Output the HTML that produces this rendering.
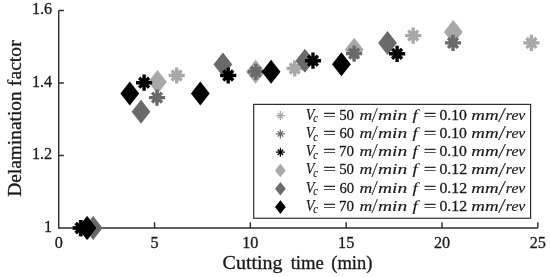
<!DOCTYPE html>
<html><head><meta charset="utf-8"><title>Delamination factor vs cutting time</title>
<style>
html,body{margin:0;padding:0;background:#fff;}
svg{display:block;font-family:"Liberation Serif","DejaVu Serif",serif;fill:#1a1a1a;}
text{stroke:#1a1a1a;stroke-width:0.3px;}
text.i{stroke-width:0.16px;}
</style></head>
<body>
<svg width="550" height="277" viewBox="0 0 550 277">
<rect width="550" height="277" fill="#fff"/>
<path d="M58.7 10.45V228.05H537.8" fill="none" stroke="#2e2e2e" stroke-width="1.45" stroke-linejoin="miter"/><path d="M154.52 228.05V222.35M250.34 228.05V222.35M346.16 228.05V222.35M441.98 228.05V222.35M537.80 228.05V222.35M58.7 155.52H63.90M58.7 82.98H63.90M58.7 10.45H63.90" fill="none" stroke="#2e2e2e" stroke-width="1.45"/>
<path stroke="#a8a8a8" stroke-width="3.4" fill="none" d="M72.40 228.05H88.60M80.50 219.95V236.15M75.55 223.10L85.45 233.00M75.55 233.00L85.45 223.10"/>
<path stroke="#a8a8a8" stroke-width="3.4" fill="none" d="M168.60 75.50H184.80M176.70 67.40V83.60M171.75 70.55L181.65 80.45M171.75 80.45L181.65 70.55"/>
<path stroke="#a8a8a8" stroke-width="3.4" fill="none" d="M286.60 68.50H302.80M294.70 60.40V76.60M289.75 63.55L299.65 73.45M289.75 73.45L299.65 63.55"/>
<path stroke="#a8a8a8" stroke-width="3.4" fill="none" d="M405.10 35.60H421.30M413.20 27.50V43.70M408.25 30.65L418.15 40.55M408.25 40.55L418.15 30.65"/>
<path stroke="#a8a8a8" stroke-width="3.4" fill="none" d="M523.30 42.90H539.50M531.40 34.80V51.00M526.45 37.95L536.35 47.85M526.45 47.85L536.35 37.95"/>
<path fill="#a8a8a8" d="M87.80 216.05L97.20 228.05L87.80 240.05L78.40 228.05Z"/>
<path fill="#a8a8a8" d="M157.50 70.10L166.90 82.10L157.50 94.10L148.10 82.10Z"/>
<path fill="#a8a8a8" d="M255.60 59.80L265.00 71.80L255.60 83.80L246.20 71.80Z"/>
<path fill="#a8a8a8" d="M354.20 37.80L363.60 49.80L354.20 61.80L344.80 49.80Z"/>
<path fill="#a8a8a8" d="M453.30 20.00L462.70 32.00L453.30 44.00L443.90 32.00Z"/>
<path stroke="#6a6a6a" stroke-width="3.4" fill="none" d="M72.40 228.05H88.60M80.50 219.95V236.15M75.55 223.10L85.45 233.00M75.55 233.00L85.45 223.10"/>
<path stroke="#6a6a6a" stroke-width="3.4" fill="none" d="M148.90 97.60H165.10M157.00 89.50V105.70M152.05 92.65L161.95 102.55M152.05 102.55L161.95 92.65"/>
<path stroke="#6a6a6a" stroke-width="3.4" fill="none" d="M247.70 71.80H263.90M255.80 63.70V79.90M250.85 66.85L260.75 76.75M250.85 76.75L260.75 66.85"/>
<path stroke="#6a6a6a" stroke-width="3.4" fill="none" d="M346.00 53.60H362.20M354.10 45.50V61.70M349.15 48.65L359.05 58.55M349.15 58.55L359.05 48.65"/>
<path stroke="#6a6a6a" stroke-width="3.4" fill="none" d="M444.90 42.90H461.10M453.00 34.80V51.00M448.05 37.95L457.95 47.85M448.05 47.85L457.95 37.95"/>
<path fill="#6a6a6a" d="M93.20 216.05L102.60 228.05L93.20 240.05L83.80 228.05Z"/>
<path fill="#6a6a6a" d="M141.00 99.70L150.40 111.70L141.00 123.70L131.60 111.70Z"/>
<path fill="#6a6a6a" d="M222.90 52.40L232.30 64.40L222.90 76.40L213.50 64.40Z"/>
<path fill="#6a6a6a" d="M304.90 48.70L314.30 60.70L304.90 72.70L295.50 60.70Z"/>
<path fill="#6a6a6a" d="M387.50 31.00L396.90 43.00L387.50 55.00L378.10 43.00Z"/>
<path stroke="#000" stroke-width="3.4" fill="none" d="M72.80 228.05H89.00M80.90 219.95V236.15M75.95 223.10L85.85 233.00M75.95 233.00L85.85 223.10"/>
<path stroke="#000" stroke-width="3.4" fill="none" d="M136.00 82.70H152.20M144.10 74.60V90.80M139.15 77.75L149.05 87.65M139.15 87.65L149.05 77.75"/>
<path stroke="#000" stroke-width="3.4" fill="none" d="M220.10 75.50H236.30M228.20 67.40V83.60M223.25 70.55L233.15 80.45M223.25 80.45L233.15 70.55"/>
<path stroke="#000" stroke-width="3.4" fill="none" d="M304.90 60.70H321.10M313.00 52.60V68.80M308.05 55.75L317.95 65.65M308.05 65.65L317.95 55.75"/>
<path stroke="#000" stroke-width="3.4" fill="none" d="M389.00 53.80H405.20M397.10 45.70V61.90M392.15 48.85L402.05 58.75M392.15 58.75L402.05 48.85"/>
<path fill="#000" d="M87.00 216.05L96.40 228.05L87.00 240.05L77.60 228.05Z"/>
<path fill="#000" d="M129.80 81.50L139.20 93.50L129.80 105.50L120.40 93.50Z"/>
<path fill="#000" d="M200.30 81.50L209.70 93.50L200.30 105.50L190.90 93.50Z"/>
<path fill="#000" d="M271.10 59.80L280.50 71.80L271.10 83.80L261.70 71.80Z"/>
<path fill="#000" d="M341.40 52.30L350.80 64.30L341.40 76.30L332.00 64.30Z"/>
<rect x="253.7" y="104.4" width="276.9" height="113.85" fill="#fff" stroke="#2e2e2e" stroke-width="1.2"/><path stroke="#a8a8a8" stroke-width="1.25" fill="none" d="M275.90 115.60H284.90M280.40 111.10V120.10M277.65 112.85L283.15 118.35M277.65 118.35L283.15 112.85"/><path stroke="#6a6a6a" stroke-width="1.25" fill="none" d="M275.90 133.90H284.90M280.40 129.40V138.40M277.65 131.15L283.15 136.65M277.65 136.65L283.15 131.15"/><path stroke="#000" stroke-width="1.25" fill="none" d="M275.90 152.20H284.90M280.40 147.70V156.70M277.65 149.45L283.15 154.95M277.65 154.95L283.15 149.45"/><path fill="#a8a8a8" d="M280.40 163.70L285.75 170.50L280.40 177.30L275.05 170.50Z"/><path fill="#6a6a6a" d="M280.40 182.00L285.75 188.80L280.40 195.60L275.05 188.80Z"/><path fill="#000" d="M280.40 200.30L285.75 207.10L280.40 213.90L275.05 207.10Z"/>
<text x="305.74" y="119.95" font-size="16.4" font-style="italic" class="i" textLength="8.67" lengthAdjust="spacingAndGlyphs">V</text>
<text x="313.16" y="122.35" font-size="11.6" font-style="italic" class="i" textLength="4.68" lengthAdjust="spacingAndGlyphs">c</text>
<text x="323.29" y="119.95" font-size="15.2" textLength="12.63" lengthAdjust="spacingAndGlyphs">=</text>
<text x="339.14" y="119.95" font-size="15.2" textLength="14.92" lengthAdjust="spacingAndGlyphs">50</text>
<text x="359.42" y="119.95" font-size="15.2" font-style="italic" class="i" textLength="12.72" lengthAdjust="spacingAndGlyphs">m</text>
<text x="372.15" y="122.15" font-size="21" font-style="italic" class="i" textLength="4.32" lengthAdjust="spacingAndGlyphs">/</text>
<text x="378.06" y="119.95" font-size="15.2" font-style="italic" class="i" textLength="29.20" lengthAdjust="spacingAndGlyphs">min</text>
<text x="412.45" y="119.95" font-size="15.2" font-style="italic" class="i" textLength="5.18" lengthAdjust="spacingAndGlyphs">f</text>
<text x="423.89" y="119.95" font-size="15.2" textLength="12.63" lengthAdjust="spacingAndGlyphs">=</text>
<text x="439.45" y="119.95" font-size="15.2" textLength="27.46" lengthAdjust="spacingAndGlyphs">0.10</text>
<text x="471.28" y="119.95" font-size="15.2" font-style="italic" class="i" textLength="27.30" lengthAdjust="spacingAndGlyphs">mm</text>
<text x="499.11" y="122.15" font-size="21" font-style="italic" class="i" textLength="5.38" lengthAdjust="spacingAndGlyphs">/</text>
<text x="505.85" y="119.95" font-size="15.2" font-style="italic" class="i" textLength="19.51" lengthAdjust="spacingAndGlyphs">rev</text>
<text x="305.74" y="138.12" font-size="16.4" font-style="italic" class="i" textLength="8.67" lengthAdjust="spacingAndGlyphs">V</text>
<text x="313.16" y="140.52" font-size="11.6" font-style="italic" class="i" textLength="4.68" lengthAdjust="spacingAndGlyphs">c</text>
<text x="323.29" y="138.12" font-size="15.2" textLength="12.63" lengthAdjust="spacingAndGlyphs">=</text>
<text x="339.40" y="138.12" font-size="15.2" textLength="14.66" lengthAdjust="spacingAndGlyphs">60</text>
<text x="359.42" y="138.12" font-size="15.2" font-style="italic" class="i" textLength="12.72" lengthAdjust="spacingAndGlyphs">m</text>
<text x="372.15" y="140.32" font-size="21" font-style="italic" class="i" textLength="4.32" lengthAdjust="spacingAndGlyphs">/</text>
<text x="378.06" y="138.12" font-size="15.2" font-style="italic" class="i" textLength="29.20" lengthAdjust="spacingAndGlyphs">min</text>
<text x="412.45" y="138.12" font-size="15.2" font-style="italic" class="i" textLength="5.18" lengthAdjust="spacingAndGlyphs">f</text>
<text x="423.89" y="138.12" font-size="15.2" textLength="12.63" lengthAdjust="spacingAndGlyphs">=</text>
<text x="439.45" y="138.12" font-size="15.2" textLength="27.46" lengthAdjust="spacingAndGlyphs">0.10</text>
<text x="471.28" y="138.12" font-size="15.2" font-style="italic" class="i" textLength="27.30" lengthAdjust="spacingAndGlyphs">mm</text>
<text x="499.11" y="140.32" font-size="21" font-style="italic" class="i" textLength="5.38" lengthAdjust="spacingAndGlyphs">/</text>
<text x="505.85" y="138.12" font-size="15.2" font-style="italic" class="i" textLength="19.51" lengthAdjust="spacingAndGlyphs">rev</text>
<text x="305.74" y="156.29" font-size="16.4" font-style="italic" class="i" textLength="8.67" lengthAdjust="spacingAndGlyphs">V</text>
<text x="313.16" y="158.69" font-size="11.6" font-style="italic" class="i" textLength="4.68" lengthAdjust="spacingAndGlyphs">c</text>
<text x="323.29" y="156.29" font-size="15.2" textLength="12.63" lengthAdjust="spacingAndGlyphs">=</text>
<text x="339.01" y="156.29" font-size="15.2" textLength="15.06" lengthAdjust="spacingAndGlyphs">70</text>
<text x="359.42" y="156.29" font-size="15.2" font-style="italic" class="i" textLength="12.72" lengthAdjust="spacingAndGlyphs">m</text>
<text x="372.15" y="158.49" font-size="21" font-style="italic" class="i" textLength="4.32" lengthAdjust="spacingAndGlyphs">/</text>
<text x="378.06" y="156.29" font-size="15.2" font-style="italic" class="i" textLength="29.20" lengthAdjust="spacingAndGlyphs">min</text>
<text x="412.45" y="156.29" font-size="15.2" font-style="italic" class="i" textLength="5.18" lengthAdjust="spacingAndGlyphs">f</text>
<text x="423.89" y="156.29" font-size="15.2" textLength="12.63" lengthAdjust="spacingAndGlyphs">=</text>
<text x="439.45" y="156.29" font-size="15.2" textLength="27.46" lengthAdjust="spacingAndGlyphs">0.10</text>
<text x="471.28" y="156.29" font-size="15.2" font-style="italic" class="i" textLength="27.30" lengthAdjust="spacingAndGlyphs">mm</text>
<text x="499.11" y="158.49" font-size="21" font-style="italic" class="i" textLength="5.38" lengthAdjust="spacingAndGlyphs">/</text>
<text x="505.85" y="156.29" font-size="15.2" font-style="italic" class="i" textLength="19.51" lengthAdjust="spacingAndGlyphs">rev</text>
<text x="305.74" y="174.46" font-size="16.4" font-style="italic" class="i" textLength="8.67" lengthAdjust="spacingAndGlyphs">V</text>
<text x="313.16" y="176.86" font-size="11.6" font-style="italic" class="i" textLength="4.68" lengthAdjust="spacingAndGlyphs">c</text>
<text x="323.29" y="174.46" font-size="15.2" textLength="12.63" lengthAdjust="spacingAndGlyphs">=</text>
<text x="339.14" y="174.46" font-size="15.2" textLength="14.92" lengthAdjust="spacingAndGlyphs">50</text>
<text x="359.42" y="174.46" font-size="15.2" font-style="italic" class="i" textLength="12.72" lengthAdjust="spacingAndGlyphs">m</text>
<text x="372.15" y="176.66" font-size="21" font-style="italic" class="i" textLength="4.32" lengthAdjust="spacingAndGlyphs">/</text>
<text x="378.06" y="174.46" font-size="15.2" font-style="italic" class="i" textLength="29.20" lengthAdjust="spacingAndGlyphs">min</text>
<text x="412.45" y="174.46" font-size="15.2" font-style="italic" class="i" textLength="5.18" lengthAdjust="spacingAndGlyphs">f</text>
<text x="423.89" y="174.46" font-size="15.2" textLength="12.63" lengthAdjust="spacingAndGlyphs">=</text>
<text x="439.45" y="174.46" font-size="15.2" textLength="27.74" lengthAdjust="spacingAndGlyphs">0.12</text>
<text x="471.28" y="174.46" font-size="15.2" font-style="italic" class="i" textLength="27.30" lengthAdjust="spacingAndGlyphs">mm</text>
<text x="499.11" y="176.66" font-size="21" font-style="italic" class="i" textLength="5.38" lengthAdjust="spacingAndGlyphs">/</text>
<text x="505.85" y="174.46" font-size="15.2" font-style="italic" class="i" textLength="19.51" lengthAdjust="spacingAndGlyphs">rev</text>
<text x="305.74" y="192.63" font-size="16.4" font-style="italic" class="i" textLength="8.67" lengthAdjust="spacingAndGlyphs">V</text>
<text x="313.16" y="195.03" font-size="11.6" font-style="italic" class="i" textLength="4.68" lengthAdjust="spacingAndGlyphs">c</text>
<text x="323.29" y="192.63" font-size="15.2" textLength="12.63" lengthAdjust="spacingAndGlyphs">=</text>
<text x="339.40" y="192.63" font-size="15.2" textLength="14.66" lengthAdjust="spacingAndGlyphs">60</text>
<text x="359.42" y="192.63" font-size="15.2" font-style="italic" class="i" textLength="12.72" lengthAdjust="spacingAndGlyphs">m</text>
<text x="372.15" y="194.83" font-size="21" font-style="italic" class="i" textLength="4.32" lengthAdjust="spacingAndGlyphs">/</text>
<text x="378.06" y="192.63" font-size="15.2" font-style="italic" class="i" textLength="29.20" lengthAdjust="spacingAndGlyphs">min</text>
<text x="412.45" y="192.63" font-size="15.2" font-style="italic" class="i" textLength="5.18" lengthAdjust="spacingAndGlyphs">f</text>
<text x="423.89" y="192.63" font-size="15.2" textLength="12.63" lengthAdjust="spacingAndGlyphs">=</text>
<text x="439.45" y="192.63" font-size="15.2" textLength="27.74" lengthAdjust="spacingAndGlyphs">0.12</text>
<text x="471.28" y="192.63" font-size="15.2" font-style="italic" class="i" textLength="27.30" lengthAdjust="spacingAndGlyphs">mm</text>
<text x="499.11" y="194.83" font-size="21" font-style="italic" class="i" textLength="5.38" lengthAdjust="spacingAndGlyphs">/</text>
<text x="505.85" y="192.63" font-size="15.2" font-style="italic" class="i" textLength="19.51" lengthAdjust="spacingAndGlyphs">rev</text>
<text x="305.74" y="210.80" font-size="16.4" font-style="italic" class="i" textLength="8.67" lengthAdjust="spacingAndGlyphs">V</text>
<text x="313.16" y="213.20" font-size="11.6" font-style="italic" class="i" textLength="4.68" lengthAdjust="spacingAndGlyphs">c</text>
<text x="323.29" y="210.80" font-size="15.2" textLength="12.63" lengthAdjust="spacingAndGlyphs">=</text>
<text x="339.01" y="210.80" font-size="15.2" textLength="15.06" lengthAdjust="spacingAndGlyphs">70</text>
<text x="359.42" y="210.80" font-size="15.2" font-style="italic" class="i" textLength="12.72" lengthAdjust="spacingAndGlyphs">m</text>
<text x="372.15" y="213.00" font-size="21" font-style="italic" class="i" textLength="4.32" lengthAdjust="spacingAndGlyphs">/</text>
<text x="378.06" y="210.80" font-size="15.2" font-style="italic" class="i" textLength="29.20" lengthAdjust="spacingAndGlyphs">min</text>
<text x="412.45" y="210.80" font-size="15.2" font-style="italic" class="i" textLength="5.18" lengthAdjust="spacingAndGlyphs">f</text>
<text x="423.89" y="210.80" font-size="15.2" textLength="12.63" lengthAdjust="spacingAndGlyphs">=</text>
<text x="439.45" y="210.80" font-size="15.2" textLength="27.74" lengthAdjust="spacingAndGlyphs">0.12</text>
<text x="471.28" y="210.80" font-size="15.2" font-style="italic" class="i" textLength="27.30" lengthAdjust="spacingAndGlyphs">mm</text>
<text x="499.11" y="213.00" font-size="21" font-style="italic" class="i" textLength="5.38" lengthAdjust="spacingAndGlyphs">/</text>
<text x="505.85" y="210.80" font-size="15.2" font-style="italic" class="i" textLength="19.51" lengthAdjust="spacingAndGlyphs">rev</text>
<text x="58.70" y="248" text-anchor="middle" font-size="16.2">0</text><text x="154.52" y="248" text-anchor="middle" font-size="16.2">5</text><text x="250.34" y="248" text-anchor="middle" font-size="16.2">10</text><text x="346.16" y="248" text-anchor="middle" font-size="16.2">15</text><text x="441.98" y="248" text-anchor="middle" font-size="16.2">20</text><text x="537.80" y="248" text-anchor="middle" font-size="16.2">25</text><text x="52.2" y="231.90" text-anchor="end" font-size="16.2">1</text><text x="52.2" y="159.37" text-anchor="end" font-size="16.2">1.2</text><text x="52.2" y="86.83" text-anchor="end" font-size="16.2">1.4</text><text x="52.2" y="14.30" text-anchor="end" font-size="16.2">1.6</text>
<text x="222.57" y="269.40" font-size="18" textLength="60.06" lengthAdjust="spacingAndGlyphs">Cutting</text><text x="290.67" y="269.40" font-size="18" textLength="33.27" lengthAdjust="spacingAndGlyphs">time</text><text x="331.23" y="269.40" font-size="18" textLength="41.24" lengthAdjust="spacingAndGlyphs">(min)</text>
<g transform="translate(20.7,196.3) rotate(-90)"><text x="-0.54" y="0.00" font-size="18" textLength="105.48" lengthAdjust="spacingAndGlyphs">Delamination</text><text x="110.15" y="0.00" font-size="18" textLength="45.89" lengthAdjust="spacingAndGlyphs">factor</text></g>
</svg>
</body></html>
